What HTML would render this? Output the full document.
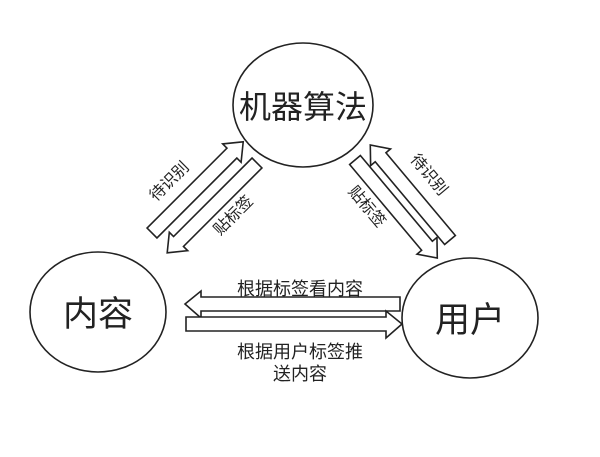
<!DOCTYPE html>
<html><head><meta charset="utf-8"><style>
html,body{margin:0;padding:0;background:#fff;}
svg{display:block;}
text{font-family:"Liberation Sans","Noto Sans CJK SC",sans-serif;fill:#222;}
</style></head><body>
<svg width="600" height="457" viewBox="0 0 600 457">
<g fill="#fff" stroke="#222" stroke-width="1.6">
<ellipse cx="303" cy="105" rx="70" ry="62"/>
<ellipse cx="98" cy="312" rx="68" ry="60"/>
<ellipse cx="470" cy="318" rx="68" ry="60"/>
<g transform="translate(152,233) rotate(-45)"><polygon points="0,-7 113,-7 113,-13 129,0 113,13 113,7 0,7"/></g>
<g transform="translate(257,163) rotate(135)"><polygon points="0,-7 111,-7 111,-13 127,0 111,13 111,7 0,7"/></g>
<g transform="translate(450,240) rotate(-130)"><polygon points="0,-7 108,-7 108,-13 124,0 108,13 108,7 0,7"/></g>
<g transform="translate(355,160) rotate(50)"><polygon points="0,-7 112,-7 112,-13 128,0 112,13 112,7 0,7"/></g>
<polygon points="400,297 201,297 201,291 185,304 201,318 201,311 400,311"/>
<polygon points="186,317 386,317 386,311 402,324 386,338 386,331 186,331"/>
</g>
<text x="303" y="118" font-size="32" text-anchor="middle">机器算法</text>
<text x="98" y="326" font-size="35" text-anchor="middle">内容</text>
<text x="470" y="332" font-size="35" text-anchor="middle">用户</text>
<text x="300" y="295" font-size="18" text-anchor="middle">根据标签看内容</text>
<text x="300" y="358" font-size="18" text-anchor="middle">根据用户标签推</text>
<text x="300" y="380" font-size="18" text-anchor="middle">送内容</text>
<text transform="translate(173,185) rotate(-45)" font-size="16" text-anchor="middle">待识别</text>
<text transform="translate(237,219) rotate(-45)" font-size="16" text-anchor="middle">贴标签</text>
<text transform="translate(363,210) rotate(50)" font-size="16" text-anchor="middle">贴标签</text>
<text transform="translate(425,178) rotate(50)" font-size="16" text-anchor="middle">待识别</text>
</svg>
</body></html>
